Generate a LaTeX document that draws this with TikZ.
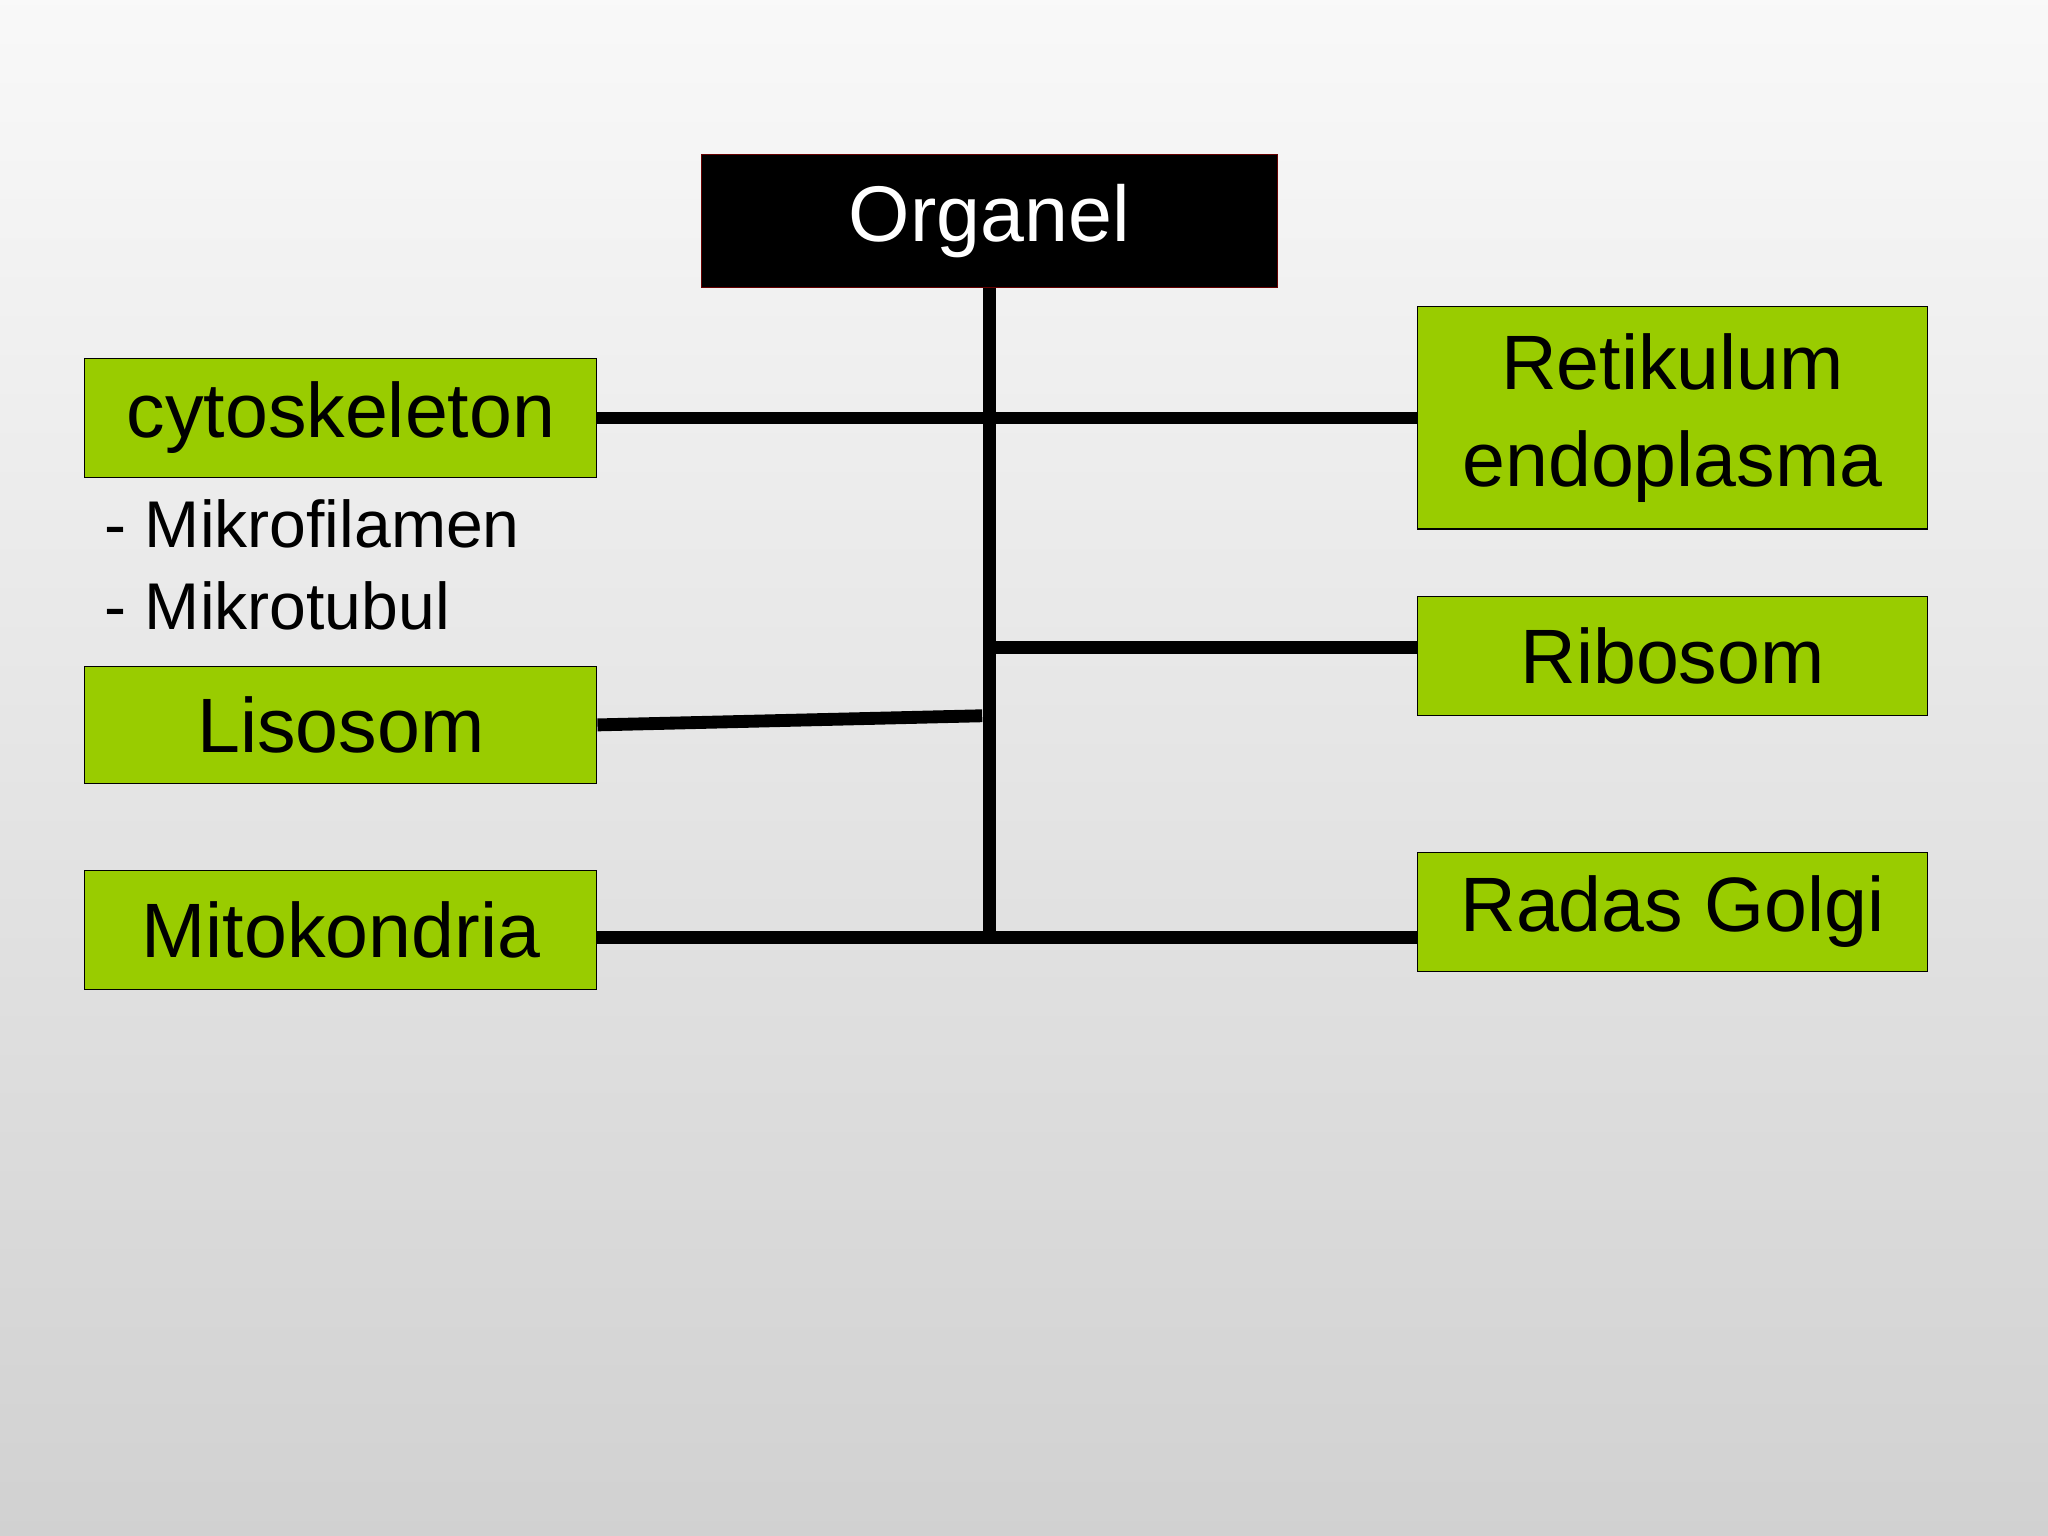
\documentclass[tikz,border=0pt]{standalone}
\usepackage{fontspec}
\setmainfont{Liberation Sans}
\definecolor{boxgreen}{HTML}{99CC00}
\begin{document}
\begin{tikzpicture}[x=0.05cm,y=-0.05cm,
  gbox/.style={draw=black,line width=1.2pt,fill=boxgreen,inner sep=0pt,font=\fontsize{84}{96}\selectfont,align=center},
  conn/.style={line width=14pt}]
\shade[top color=white!95!gray, bottom color=black!18] (0,0) rectangle (1568,1176);
\useasboundingbox (0,0) rectangle (1568,1176);
\node[fill=black,draw=red!40!black,line width=1.2pt,text=white,inner sep=0pt,minimum width=441*0.05cm,minimum height=102*0.05cm,font=\fontsize{86}{96}\selectfont] (org) at (757.5,169) {Organel};
\node[gbox,minimum width=392*0.05cm,minimum height=91*0.05cm] (cyt) at (261,320) {cytoskeleton};
\node[gbox,minimum width=392*0.05cm,minimum height=90*0.05cm] (lis) at (261,555) {Lisosom};
\node[gbox,minimum width=392*0.05cm,minimum height=91*0.05cm] (mit) at (261,712) {Mitokondria};
\node[gbox,minimum width=391*0.05cm,minimum height=170*0.05cm,font=\fontsize{84}{105}\selectfont] (ret) at (1280.5,320) {Retikulum\\endoplasma};
\node[gbox,minimum width=391*0.05cm,minimum height=91*0.05cm] (rib) at (1280.5,502) {Ribosom};
\node[gbox,minimum width=391*0.05cm,minimum height=91*0.05cm] (rad) at (1280.5,698) {Radas Golgi};
\node[anchor=north west,align=left,inner sep=0pt,font=\fontsize{72}{90}\selectfont] (sub) at (80,382) {- Mikrofilamen\\- Mikrotubul};
\coordinate (tb) at (757.5,718);
\draw[conn] (org.south) -- (tb);
\draw[conn] (cyt.east) -- (ret.west |- cyt.east);
\draw[conn] (lis.east) -- (752,548);
\draw[conn] (762,496) -- (rib.west |- 0,496);
\draw[conn] (mit.east |- tb) -- (rad.west |- tb);
\end{tikzpicture}
\end{document}
